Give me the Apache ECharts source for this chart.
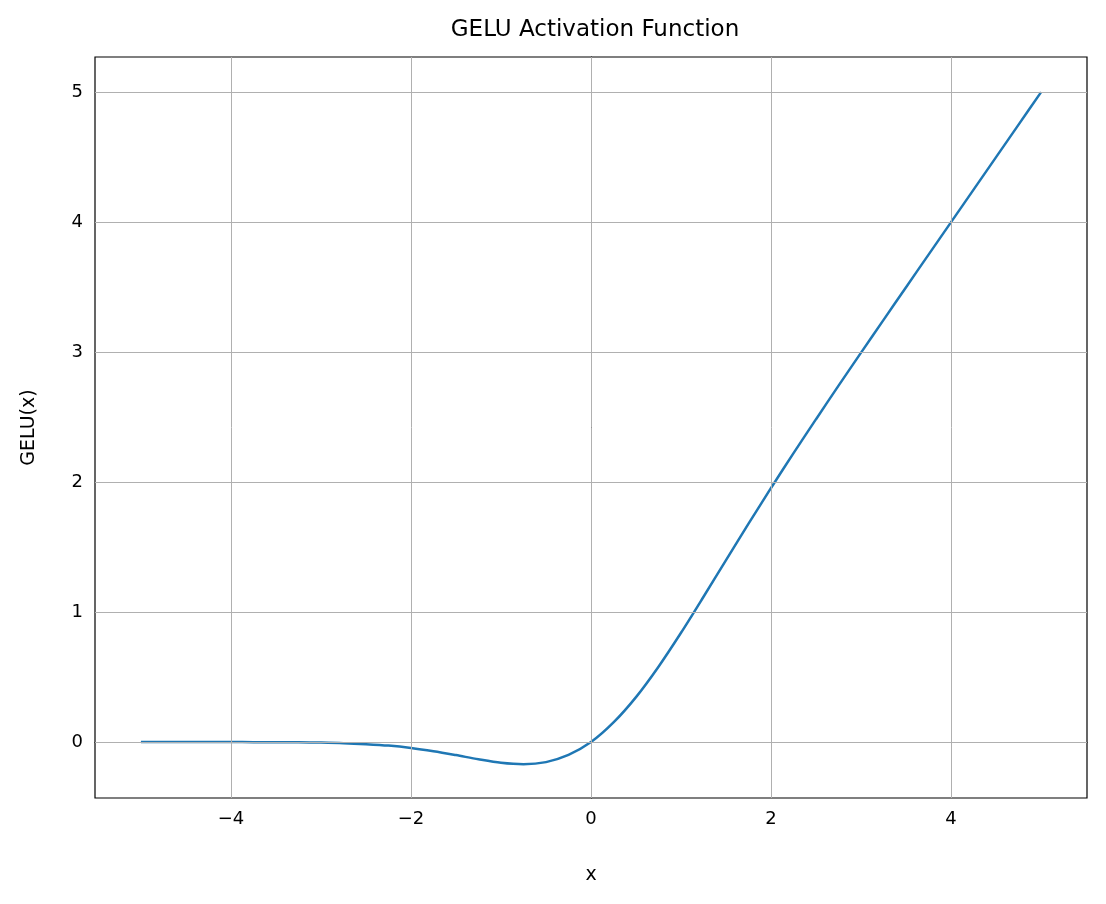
<!DOCTYPE html>
<html><head><meta charset="utf-8">
<script src="https://cdn.jsdelivr.net/npm/echarts@6/dist/echarts.min.js"></script>
<style>html,body{margin:0;background:#fff}#c{width:1106px;height:904px}</style>
</head><body><div id="c"></div>
<script>
const xValues = [-5,-4.75,-4.5,-4.25,-4,-3.75,-3.5,-3.25,-3,-2.75,-2.5,-2.25,-2,-1.75,-1.5,-1.25,-1,-0.75,-0.5,-0.25,0,0.25,0.5,0.75,1,1.25,1.5,1.75,2,2.25,2.5,2.75,3,3.25,3.5,3.75,4,4.25,4.5,4.75,5];
const yValues = [0,0,0,0,-0.0001,-0.0003,-0.0008,-0.0019,-0.004,-0.008,-0.016,-0.027,-0.045,-0.070,-0.100,-0.132,-0.159,-0.170,-0.154,-0.099,0,0.151,0.346,0.580,0.841,1.118,1.400,1.680,1.955,2.223,2.484,2.742,2.996,3.248,3.499,3.750,4.0,4.25,4.5,4.75,5.0];
const xTicks = [-4,-2,0,2,4];
const yTicks = [0,1,2,3,4,5];
const fmt = v => String(v).replace('-', '\u2212');
const font = 'DejaVu Sans';
const chart = echarts.init(document.getElementById('c'));
const gridLines = xTicks.map(v => ({xAxis: v})).concat(yTicks.map(v => ({yAxis: v})));
chart.setOption({
  animation: false,
  title: {text: 'GELU Activation Function', left: 590, top: 14, textAlign: 'center',
    textStyle: {fontFamily: font, fontSize: 23, fontWeight: 'normal', color: '#000'}},
  grid: {left: 95, right: 19, top: 57, bottom: 106, show: true, borderColor: '#000', borderWidth: 1.2},
  xAxis: {type: 'value', min: -5.51, max: 5.51, name: 'x', nameLocation: 'middle', nameGap: 68,
    nameTextStyle: {fontFamily: font, fontSize: 19, color: '#000'},
    axisLine: {show: true, lineStyle: {color: '#000'}},
    axisTick: {show: true, customValues: xTicks, length: 6, lineStyle: {color: '#000'}},
    axisLabel: {customValues: xTicks, formatter: fmt, fontFamily: font, fontSize: 18, color: '#000', margin: 12},
    splitLine: {show: false}},
  yAxis: {type: 'value', min: -0.43, max: 5.27, name: 'GELU(x)', nameLocation: 'middle', nameGap: 56,
    nameTextStyle: {fontFamily: font, fontSize: 19, color: '#000'},
    axisLine: {show: true, lineStyle: {color: '#000'}},
    axisTick: {show: true, customValues: yTicks, length: 6, lineStyle: {color: '#000'}},
    axisLabel: {customValues: yTicks, formatter: fmt, fontFamily: font, fontSize: 18, color: '#000', margin: 12},
    splitLine: {show: false}},
  series: [{type: 'line', data: xValues.map((x, i) => [x, yValues[i]]), smooth: 0.3, showSymbol: false,
    lineStyle: {color: '#1f77b4', width: 2.5},
    markLine: {silent: true, symbol: 'none', label: {show: false},
      lineStyle: {color: '#b0b0b0', width: 1, type: 'solid'}, data: gridLines}, z: 3}]
});
</script></body></html>
